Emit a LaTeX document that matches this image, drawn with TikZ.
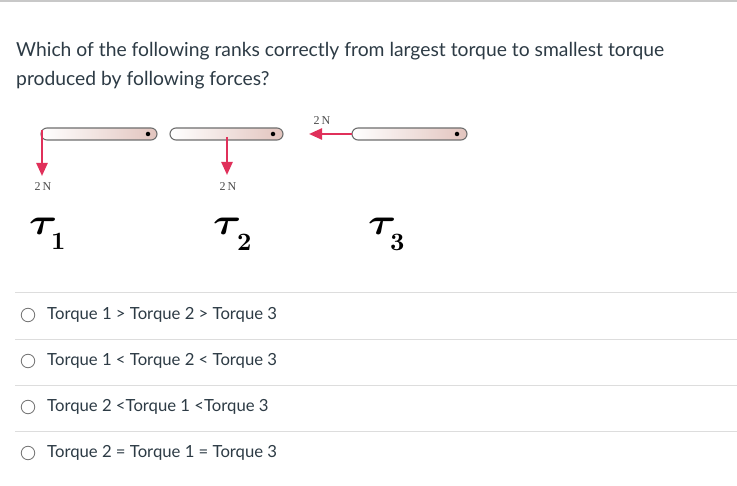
\documentclass[tikz,border=0pt]{standalone}
\usepackage[no-math]{fontspec}
\usetikzlibrary{arrows.meta}
\setmainfont{Lato}
\newfontfamily\serifN{Liberation Serif}
\definecolor{sep}{HTML}{DDDDDD}
\definecolor{topline}{HTML}{C8C8C8}
\definecolor{forcered}{HTML}{E0305A}
\definecolor{rodpink}{HTML}{E2C4BE}
\definecolor{rodedge}{HTML}{6E6E6E}
\definecolor{txt}{HTML}{2D3B45}
\begin{document}
\begin{tikzpicture}[x=1pt,y=-1pt,
  rod/.style={draw=rodedge,line width=1.1pt,rounded corners=6pt,left color=white,right color=rodpink},
  pivot/.style={circle,fill=black,inner sep=0pt,minimum size=4.5pt},
  force/.style={draw=forcered,line width=2.4pt,-{Triangle[length=13pt,width=11pt]}},
  flabel/.style={font=\serifN\fontsize{12}{13}\selectfont,text=black!70,inner sep=0pt},
  tau/.style={inner sep=0pt,anchor=base west,font=\boldmath},
  sub/.style={inner sep=0pt,anchor=base west},
  radio/.style={circle,draw=black!55,line width=0.8pt,minimum size=13.5pt,inner sep=0pt},
  opt/.style={font=\fontsize{16.7}{19}\selectfont,text=txt,anchor=base west,inner sep=0pt},
  q/.style={font=\fontsize{19.3}{22}\selectfont,text=txt,anchor=base west,inner sep=0pt}]
\useasboundingbox (0,0) rectangle (737,486);
\fill[white] (0,0) rectangle (737,486);
\draw[topline,line width=2pt] (0,1) -- (737,1);
% question
\node[q] (q1) at (16,57) {Which of the following ranks correctly from largest torque to smallest torque};
\node[q] (q2) at (16,86) {produced by following forces?};
% rods
\path[rod] (41,128) rectangle (157,140);
\path[rod] (170,128) rectangle (283,140);
\path[rod] (352,128) rectangle (467,140);
\node[pivot] (p1) at (148,134) {};
\node[pivot] (p2) at (273,134) {};
\node[pivot] (p3) at (457,134) {};
% forces
\coordinate (f1s) at (42,130);
\coordinate (f1e) at (42,176);
\coordinate (f2s) at (227,137);
\coordinate (f2e) at (227,175);
\coordinate (f3s) at (352,134);
\coordinate (f3e) at (309,134);
\draw[force] (f1s) -- (f1e);
\draw[force] (f2s) -- (f2e);
\draw[force] (f3s) -- (f3e);
\node[flabel] (l1) at (43,187) {2\,N};
\node[flabel] (l2) at (228,187) {2\,N};
\node[flabel] (l3) at (322,121) {2\,N};
% tau labels
\node[tau] (t1) at (29,235) {\scalebox{4.3}[3.7]{$\tau$}};
\node[sub] (s1) at (51,250) {\scalebox{2.5}{$\mathbf{1}$}};
\node[tau] (t2) at (213,235) {\scalebox{4.3}[3.7]{$\tau$}};
\node[sub] (s2) at (237,251) {\scalebox{2.5}{$\mathbf{2}$}};
\node[tau] (t3) at (368,235) {\scalebox{4.3}[3.7]{$\tau$}};
\node[sub] (s3) at (390,251) {\scalebox{2.5}{$\mathbf{3}$}};
% separators
\foreach \y in {293,340,386,432} \draw[sep,line width=1pt] (15,\y) -- (737,\y);
% options
\node[radio] (r1) at (28,315) {};
\node[radio] (r2) at (28,361) {};
\node[radio] (r3) at (28,407) {};
\node[radio] (r4) at (28,453) {};
\node[opt] (o1) at (47,320) {Torque 1 > Torque 2 > Torque 3};
\node[opt] (o2) at (47,366) {Torque 1 < Torque 2 < Torque 3};
\node[opt] (o3) at (47,412) {Torque 2 <Torque 1 <Torque 3};
\node[opt] (o4) at (47,458) {Torque 2 = Torque 1 = Torque 3};
\end{tikzpicture}
\end{document}
